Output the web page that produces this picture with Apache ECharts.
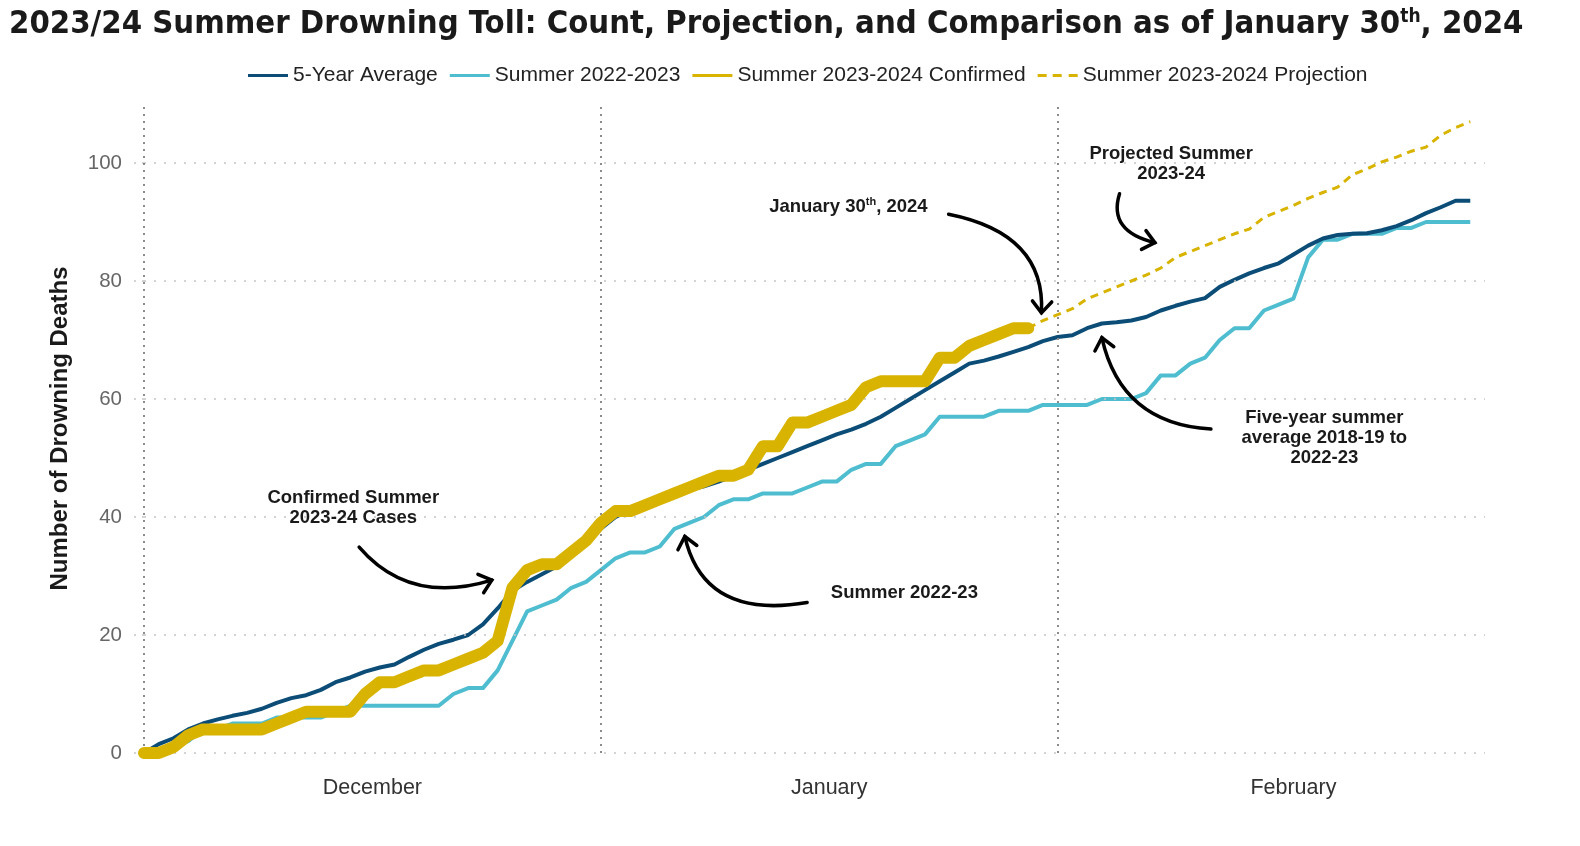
<!DOCTYPE html>
<html><head><meta charset="utf-8">
<script src="https://cdn.jsdelivr.net/npm/echarts@6/dist/echarts.min.js"></script>
<style>html,body{margin:0;padding:0;background:#fff}#c{width:1580px;height:846px}</style>
</head><body><div id="c"></div>
<script>
// Day index 0 = 1 December, 31 = 1 January, 62 = 1 February
const monthStarts = [0, 31, 62];
const monthNames = ['December', 'January', 'February'];
const monthLabelPos = [15.5, 46.5, 78];
const yTicks = [0, 20, 40, 60, 80, 100];

const seriesNames = ['5-Year Average', 'Summer 2022-2023', 'Summer 2023-2024 Confirmed', 'Summer 2023-2024 Projection'];

// 5-year average, days 0..90
const avg5 = [0,1.5,2.5,4,5,5.7,6.3,6.8,7.5,8.5,
  9.3,9.8,10.7,12,12.8,13.8,14.5,15,16.3,17.5,
  18.5,19.2,20,21.8,24.5,27.5,29,30.3,31.6,33.5,
  35.5,38,40,41.2,42.2,43.2,44,44.6,45.2,46,
  47,48,49,50,51,52,53,54,54.8,55.8,
  57,58.5,60,61.5,63,64.5,66,66.5,67.2,68,
  68.8,69.8,70.5,70.8,72,72.8,73,73.3,73.9,75,
  75.8,76.5,77.1,79,80.2,81.3,82.2,83,84.5,86,
  87.2,87.8,88,88.1,88.6,89.3,90.3,91.5,92.5,93.6,
  93.6];
// Summer 2022-23, days 0..90
const s2223 = [0,0,1,2,4,4,5,5,5,6,
  6,6,6,7,8,8,8,8,8,8,
  8,10,11,11,14,19,24,25,26,28,
  29,31,33,34,34,35,38,39,40,42,
  43,43,44,44,44,45,46,46,48,49,
  49,52,53,54,57,57,57,57,58,58,
  58,59,59,59,59,60,60,60,61,64,
  64,66,67,70,72,72,75,76,77,84,
  87,87,88,88,88,89,89,90,90,90,
  90];
// Summer 2023-24 confirmed, days 0..60 (to 30 January)
const s2324 = [0,0,1,3,4,4,4,4,4,5,
  6,7,7,7,7,10,12,12,13,14,
  14,15,16,17,19,28,31,32,32,34,
  36,39,41,41,42,43,44,45,46,47,
  47,48,52,52,56,56,57,58,59,62,
  63,63,63,63,67,67,69,70,71,72,
  72];
// Projection, days 60..90
const projStart = 60;
const proj = [72,73.3,74.3,75.3,77,78,79,80,81,82.2,
  84,85,86,87,88,88.8,90.8,91.8,92.8,94,
  95,95.9,98,99,100.2,101,102,102.7,104.7,106,
  107];

// Annotations, anchored in data coordinates [day, value]
const annotations = [
  {text: 'Confirmed Summer\n2023-24 Cases', at: [14.2, 41.6], from: [14.6, 34.9], ctrl: [18.0, 25.0], to: [23.6, 29.3]},
  {text: 'Summer 2022-23', at: [51.6, 27.1], from: [45.0, 25.5], ctrl: [38.0, 22.5], to: [36.7, 36.7]},
  {text: 'January 30{s|th}, 2024', at: [47.8, 92.6], from: [54.6, 91.3], ctrl: [61.2, 88.0], to: [60.9, 74.6]},
  {text: 'Projected Summer\n2023-24', at: [69.7, 99.8], from: [66.2, 94.8], ctrl: [65.4, 88.4], to: [68.6, 86.5]},
  {text: 'Five-year summer\naverage 2018-19 to\n2022-23', at: [80.1, 53.4], from: [72.4, 54.9], ctrl: [66.3, 55.8], to: [65.0, 70.4]}
];

const NAVY = '#0c4d77', CYAN = '#4fbdd0', GOLD = '#d8b300';
const pairs = (arr, start) => arr.map((v, i) => [i + start, v]);

const chart = echarts.init(document.getElementById('c'), null, {renderer: 'canvas'});
const FONT = 'Liberation Sans, Arial, sans-serif';

chart.setOption({
  animation: false,
  backgroundColor: '#ffffff',
  title: {
    text: '2023/24 Summer Drowning Toll: Count, Projection, and Comparison as of January 30{s|th}, 2024',
    left: 4, top: 3,
    textStyle: {
      fontFamily: 'DejaVu Sans Condensed, DejaVu Sans', fontWeight: 'bold', fontSize: 32.6, color: '#1a1a1a',
      rich: {s: {fontFamily: 'DejaVu Sans Condensed, DejaVu Sans', fontWeight: 'bold', fontSize: 19, color: '#1a1a1a', verticalAlign: 'top', lineHeight: 16}}
    }
  },
  legend: {
    left: 243, top: 60,
    itemWidth: 40, itemHeight: 14, itemGap: 12,
    textStyle: {fontFamily: FONT, fontSize: 21, color: '#222'},
    data: [
      {name: seriesNames[0], icon: 'path://M0,0H40V3H0Z', itemStyle: {color: NAVY}},
      {name: seriesNames[1], icon: 'path://M0,0H40V3H0Z', itemStyle: {color: CYAN}},
      {name: seriesNames[2], icon: 'path://M0,0H40V3H0Z', itemStyle: {color: GOLD}},
      {name: seriesNames[3], icon: 'path://M0,0H9V3H0ZM15,0H24V3H15ZM31,0H40V3H31Z', itemStyle: {color: GOLD}}
    ]
  },
  grid: {left: 144, right: 95, top: 104, bottom: 93, containLabel: false},
  xAxis: {
    type: 'value', min: 0, max: 91,
    axisLine: {show: false}, axisTick: {show: false}, splitLine: {show: false},
    axisLabel: {
      customValues: monthLabelPos, margin: 24,
      formatter: v => monthNames[monthLabelPos.indexOf(v)] || '',
      fontFamily: FONT, fontSize: 21.5, color: '#333'
    }
  },
  yAxis: {
    type: 'value', min: 0, max: 110,
    name: 'Number of Drowning Deaths', nameLocation: 'middle', nameGap: 72,
    nameTextStyle: {fontFamily: FONT, fontWeight: 'bold', fontSize: 24, color: '#1a1a1a'},
    axisLine: {show: false},
    axisTick: {show: true, customValues: yTicks, length: 12, lineStyle: {color: '#c4c4c4', type: [2, 6], width: 1.5}},
    splitLine: {show: false},
    axisLabel: {customValues: yTicks, margin: 22, fontFamily: FONT, fontSize: 20.5, color: '#666'}
  },
  series: [
    {
      name: 'grid', type: 'line', data: [], silent: true, z: 1,
      markLine: {
        silent: true, symbol: 'none', label: {show: false}, animation: false,
        data: [
          ...yTicks.map(v => ({yAxis: v, lineStyle: {color: '#c4c4c4', type: [2, 8], width: 1.5}})),
          ...monthStarts.map(v => ({xAxis: v, lineStyle: {color: '#8c8c8c', type: [2, 5], width: 2}}))
        ]
      }
    },
    {name: seriesNames[1], type: 'line', data: pairs(s2223, 0), showSymbol: false, z: 3, color: CYAN,
      lineStyle: {color: CYAN, width: 4, join: 'round'}},
    {name: seriesNames[0], type: 'line', data: pairs(avg5, 0), showSymbol: false, z: 4, color: NAVY,
      lineStyle: {color: NAVY, width: 4, join: 'round'}},
    {name: seriesNames[3], type: 'line', data: pairs(proj, projStart), showSymbol: false, z: 5, color: GOLD,
      lineStyle: {color: GOLD, width: 3, type: [8, 6]}},
    {name: seriesNames[2], type: 'line', data: pairs(s2324, 0), showSymbol: false, z: 6, color: GOLD,
      lineStyle: {color: GOLD, width: 12, cap: 'round', join: 'round'}}
  ]
});

// Annotation text and arrows, positioned through the chart's own coordinate system
const toPx = p => chart.convertToPixel({gridIndex: 0}, p);
const elements = [];
annotations.forEach(a => {
  const t = toPx(a.at), p0 = toPx(a.from), c = toPx(a.ctrl), p1 = toPx(a.to);
  elements.push({
    type: 'text', silent: true, z: 100,
    style: {
      text: a.text, x: t[0], y: t[1], align: 'center', verticalAlign: 'middle',
      font: 'bold 18.5px ' + FONT, fill: '#1a1a1a', lineHeight: 20,
      rich: {s: {font: 'bold 11px ' + FONT, fill: '#1a1a1a', verticalAlign: 'top', lineHeight: 14}}
    }
  });
  elements.push({
    type: 'bezierCurve', silent: true, z: 100,
    shape: {x1: p0[0], y1: p0[1], cpx1: c[0], cpy1: c[1], x2: p1[0], y2: p1[1]},
    style: {stroke: '#000', lineWidth: 3.5, fill: null, lineCap: 'round'}
  });
  let dx = p1[0] - c[0], dy = p1[1] - c[1];
  const len = Math.hypot(dx, dy); dx /= len; dy /= len;
  const L = 15, ang = 0.7;
  const rot = (x, y, a) => [x * Math.cos(a) - y * Math.sin(a), x * Math.sin(a) + y * Math.cos(a)];
  const r1 = rot(dx, dy, ang), r2 = rot(dx, dy, -ang);
  elements.push({
    type: 'polyline', silent: true, z: 100,
    shape: {points: [[p1[0] - L * r1[0], p1[1] - L * r1[1]], [p1[0], p1[1]], [p1[0] - L * r2[0], p1[1] - L * r2[1]]]},
    style: {stroke: '#000', lineWidth: 3.5, fill: null, lineJoin: 'miter', lineCap: 'round'}
  });
});
chart.setOption({graphic: {elements}});
</script>
</body></html>
